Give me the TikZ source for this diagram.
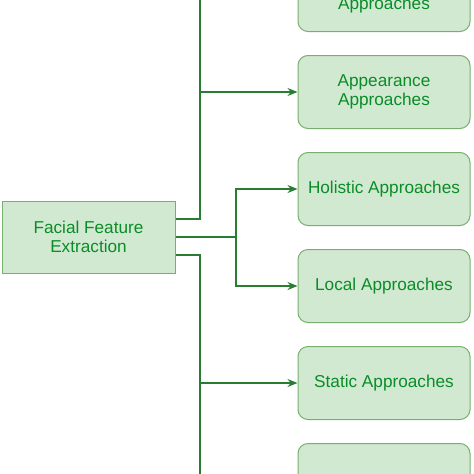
\documentclass[tikz,border=0pt]{standalone}
\usepackage{fontspec}
\setmainfont{Liberation Sans}
\usepackage{xcolor}
\usetikzlibrary{arrows.meta,positioning}

\definecolor{boxfill}{RGB}{210,233,209}
\definecolor{boxline}{RGB}{120,175,110}
\definecolor{txtgreen}{RGB}{10,140,40}
\definecolor{wiregreen}{RGB}{40,125,50}

\begin{document}
\begin{tikzpicture}[x=1pt, y=1pt, node distance=97pt, on grid,
    font=\fontsize{17.2}{19}\selectfont,
    base/.style={draw=boxline, line width=1pt, fill=boxfill, text=txtgreen, align=center, inner sep=2pt},
    approach/.style={base, rounded corners=10pt, minimum width=172pt, minimum height=73pt},
    source/.style={base, minimum width=173pt, minimum height=72pt},
    wire/.style={draw=wiregreen, line width=1.4pt},
    arr/.style={wire, -{Stealth[length=10pt, width=8pt]}}]
    \useasboundingbox (0,0) rectangle (474,-474);
    \clip (0,0) rectangle (474,-474);

    \node[source] (feat) at (88.5,-237) {Facial Feature\\Extraction};

    \node[approach] (app) at (384,-92) {Appearance\\Approaches};
    \node[approach, above=of app] (geo) {\strut\\Approaches};
    \node[approach, below=of app] (hol) {Holistic Approaches};
    \node[approach, below=of hol] (loc) {Local Approaches};
    \node[approach, below=of loc] (stat) {Static Approaches};
    \node[approach, below=of stat] (dyn) {};

    \coordinate (trunk) at (200,0);
    \coordinate (fork) at (236,-237);

    \draw[arr] ([yshift=18pt]feat.east) -| (trunk |- geo.west) -- (geo.west);
    \draw[arr] (trunk |- app.west) -- (app.west);
    \draw[wire] (feat.east) -- (fork);
    \draw[arr] (fork) |- (hol.west);
    \draw[arr] (fork) |- (loc.west);
    \draw[arr] ([yshift=-18pt]feat.east) -| (trunk |- dyn.west) -- (dyn.west);
    \draw[arr] (trunk |- stat.west) -- (stat.west);
\end{tikzpicture}
\end{document}
